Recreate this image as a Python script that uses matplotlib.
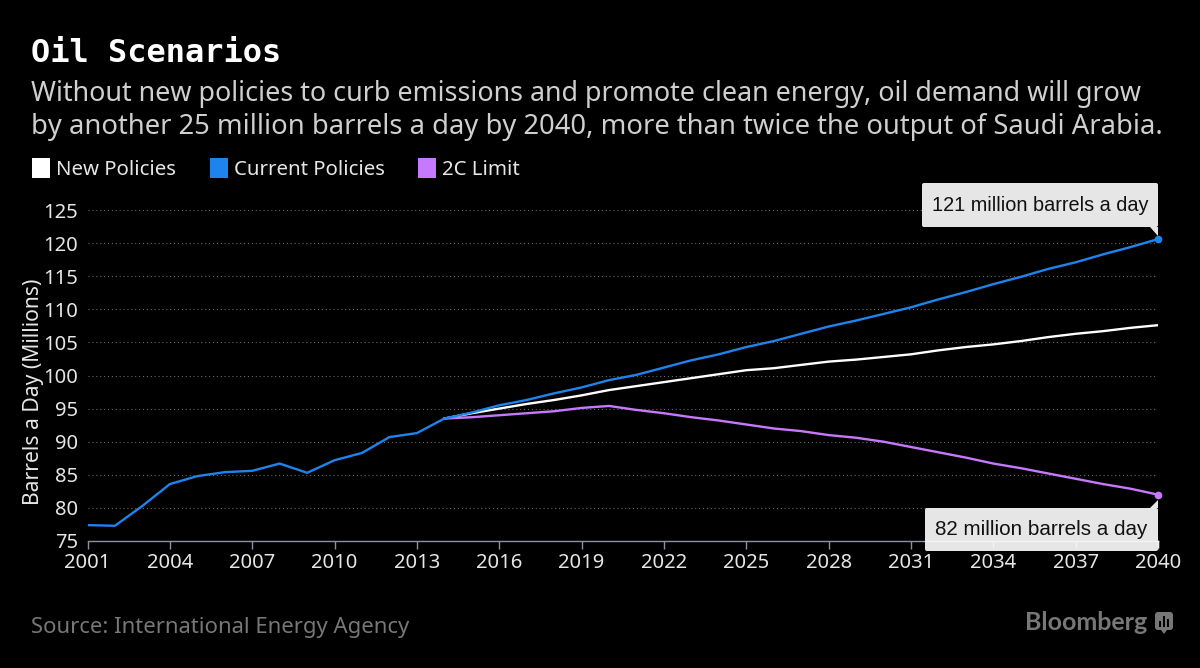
"""Oil demand scenarios to 2040, dark-background line chart."""

import matplotlib

matplotlib.use('Agg')
import matplotlib.pyplot as plt
from matplotlib.lines import Line2D
from matplotlib.patches import FancyBboxPatch, Polygon
from matplotlib.transforms import IdentityTransform

W, H = 1200, 668

years = list(range(2001, 2041))
history = [77.4, 77.3, 80.3, 83.6, 84.8, 85.4, 85.6, 86.7, 85.3, 87.2, 88.3, 90.7, 91.3]
current_policies = [93.5, 94.4, 95.5, 96.3, 97.3, 98.2, 99.3, 100.1, 101.2, 102.3, 103.2,
                    104.3, 105.2, 106.3, 107.4, 108.3, 109.3, 110.3, 111.5, 112.6, 113.8,
                    114.9, 116.1, 117.1, 118.3, 119.4, 120.6]
new_policies = [93.5, 94.3, 95.0, 95.7, 96.3, 97.0, 97.8, 98.4, 99.0, 99.6, 100.2,
                100.8, 101.1, 101.6, 102.1, 102.4, 102.8, 103.2, 103.8, 104.3, 104.7,
                105.2, 105.8, 106.3, 106.7, 107.2, 107.6]
limit_2c = [93.5, 93.7, 94.0, 94.3, 94.6, 95.1, 95.4, 94.8, 94.3, 93.7, 93.2,
            92.6, 92.0, 91.6, 91.0, 90.6, 90.0, 89.2, 88.4, 87.6, 86.7,
            86.0, 85.2, 84.4, 83.6, 82.9, 82.0]
y_ticks = list(range(75, 130, 5))
x_ticks = list(range(2001, 2041, 3))

WHITE = '#ffffff'
BLUE = '#1d84ee'
PURPLE = '#c678ff'
TEXT = '#e6e6e6'
SUB = '#cfcfcf'
GREY = '#777777'
BOX = '#e6e6e6'
AXIS = '#8a93a3'
SANS = 'Noto Sans'
MONO = 'DejaVu Sans Mono'


def fx(px):
  return px / W


def fy(px):
  return 1 - px / H


def add_box(fig, x0, y0, x1, y1, color, radius=0):
  """Draw a box given in pixels measured from the top-left corner."""
  if radius:
    style = f'round,pad=0,rounding_size={radius}'
  else:
    style = 'square,pad=0'
  fig.patches.append(FancyBboxPatch((x0, H - y1), x1 - x0, y1 - y0, boxstyle=style,
                                    transform=IdentityTransform(), color=color, lw=0, zorder=5))


def add_poly(fig, points, color):
  fig.patches.append(Polygon([(x, H - y) for x, y in points], transform=IdentityTransform(),
                             color=color, lw=0, zorder=5))


def callout(fig, ax, year, value, text, x0, y0, x1, y1, tip_y, base_y, text_x, size):
  """Grey label box with a small pointer towards the end of a line."""
  add_box(fig, x0, y0, x1, y1, BOX, radius=2)
  tip_px = ax.transData.transform((year, value))[0]
  add_poly(fig, [(tip_px, tip_y), (tip_px, base_y), (tip_px - 8, base_y)], BOX)
  fig.text(fx(text_x), fy((y0 + y1) / 2), text, color='#111111', fontsize=size,
           family='Liberation Sans', va='center', ha='left', zorder=6)


fig = plt.figure(figsize=(W / 100, H / 100), dpi=100, facecolor='black')
ax = fig.add_axes([fx(87.5), fy(541), fx(1158 - 87.5), (541 - 210) / H], facecolor='black')

hist_years = years[:len(history)]
scen_years = years[len(history):]
ax.plot(scen_years, new_policies, color=WHITE, lw=1.7, zorder=3)
ax.plot(scen_years, limit_2c, color=PURPLE, lw=1.7, zorder=3)
ax.plot(hist_years + scen_years, history + current_policies, color=BLUE, lw=1.7, zorder=4)
ax.plot(years[-1], current_policies[-1], 'o', color=BLUE, ms=4.5, clip_on=False, zorder=4)
ax.plot(years[-1], limit_2c[-1], 'o', color=PURPLE, ms=4.5, clip_on=False, zorder=4)

ax.set_xlim(2001, 2040)
ax.set_ylim(75, 125)
ax.set_xticks(x_ticks)
ax.set_yticks(y_ticks)
ax.tick_params(axis='x', colors=AXIS, length=6, width=1, pad=3, labelcolor=TEXT, labelsize=14.5)
ax.tick_params(axis='y', length=0, pad=7, labelcolor=TEXT, labelsize=14.5)
for label in ax.get_xticklabels() + ax.get_yticklabels():
  label.set_family(SANS)
ax.grid(True, axis='y', color='#6a6a6a', lw=0.8, ls=(0, (1, 2.5)))
ax.set_axisbelow(True)
for side in ['top', 'right', 'left']:
  ax.spines[side].set_visible(False)
ax.spines['bottom'].set_color(AXIS)
ax.spines['bottom'].set_linewidth(1)

fig.text(fx(34), fy(392), 'Barrels a Day (Millions)', color=TEXT, fontsize=15.2, family=SANS,
         rotation=90, ha='center', va='center')

# Heading block
fig.text(fx(31), fy(54), 'Oil Scenarios', color=WHITE, fontsize=23, family=MONO,
         weight='bold', va='center')
fig.text(fx(31), fy(94), 'Without new policies to curb emissions and promote clean energy, '
         'oil demand will grow', color=SUB, fontsize=19.35, family=SANS, va='center')
fig.text(fx(31), fy(127), 'by another 25 million barrels a day by 2040, more than twice '
         'the output of Saudi Arabia.', color=SUB, fontsize=19.7, family=SANS, va='center')

# Legend row
legend_items = [('New Policies', WHITE, 32), ('Current Policies', BLUE, 210), ('2C Limit', PURPLE, 418)]
for name, color, left in legend_items:
  add_box(fig, left, 158, left + 18, 178, color)
  fig.text(fx(left + 24), fy(170), name, color=TEXT, fontsize=14.7, family=SANS, va='center')

callout(fig, ax, years[-1], current_policies[-1], '121 million barrels a day',
        922, 183, 1158, 227, 236, 227, 932, 14.3)
callout(fig, ax, years[-1], limit_2c[-1], '82 million barrels a day',
        925, 508, 1158, 551, 500, 508, 935, 14.85)

# The x axis stays faintly visible across the lower label
fig.add_artist(Line2D([fx(925), fx(1158)], [fy(541), fy(541)], color='#f4f4f4', lw=1, zorder=6))
for year in x_ticks[-3:]:
  tick_px = ax.transData.transform((year, 75))[0]
  fig.add_artist(Line2D([fx(tick_px), fx(tick_px)], [fy(541), fy(547)], color='#f4f4f4', lw=1,
                        zorder=6))

# Footer
fig.text(fx(31), fy(627), 'Source: International Energy Agency', color=GREY, fontsize=15.9,
         family=SANS, va='center')
fig.text(fx(1025), fy(622), 'Bloomberg', color=GREY, fontsize=18, family='Lato', weight='bold',
         va='center')
add_box(fig, 1155, 612, 1173, 630, GREY, radius=3)
add_poly(fig, [(1161, 630), (1167, 630), (1164, 634)], GREY)
for left, top in [(1159, 621), (1163, 616), (1167, 619)]:
  add_box(fig, left, top, left + 2, 627, 'black')

fig.savefig('out.png', dpi=100, facecolor='black')
